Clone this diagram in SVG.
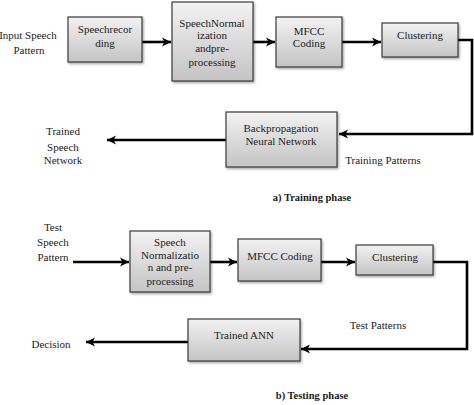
<svg xmlns="http://www.w3.org/2000/svg" width="474" height="405" viewBox="0 0 474 405">
<style>
text{font-family:"Liberation Serif","Times New Roman",serif;font-size:11px;fill:#222;text-anchor:middle}
.b{font-weight:bold;font-size:10.5px}
.box{fill:url(#g);stroke:#3a3a3a;stroke-width:1.2;filter:url(#sh)}
.con{fill:none;stroke:#000;stroke-width:2.6}
.arr{marker-end:url(#ah)}
</style>
<defs>
<linearGradient id="g" x1="0" y1="0" x2="0" y2="1">
<stop offset="0" stop-color="#f2f2f2"/>
<stop offset="1" stop-color="#c4c4c4"/>
</linearGradient>
<filter id="sh" x="-10%" y="-10%" width="125%" height="130%">
<feDropShadow dx="1.2" dy="1.5" stdDeviation="1" flood-color="#000" flood-opacity="0.35"/>
</filter>
<marker id="ah" markerWidth="10" markerHeight="10" viewBox="0 0 10 10" refX="9" refY="5" orient="auto" markerUnits="userSpaceOnUse">
<path d="M0,0.5 L9,5 L0,9.5 L2.5,5 Z" fill="#000"/>
</marker>
</defs>
<g id="connectors">
<line class="con arr" x1="142" y1="42" x2="171" y2="42"/>
<line class="con arr" x1="253" y1="42" x2="275" y2="42"/>
<line class="con arr" x1="342" y1="42" x2="381" y2="42"/>
<polyline class="con arr" points="458,40 472,40 472,134 339,134"/>
<line class="con arr" x1="226" y1="140" x2="107" y2="140"/>
<line class="con arr" x1="73" y1="262" x2="129" y2="262"/>
<line class="con arr" x1="210" y1="262" x2="237" y2="262"/>
<line class="con arr" x1="321" y1="262" x2="355" y2="262"/>
<polyline class="con arr" points="433,262 467,262 467,349 301,349"/>
<line class="con arr" x1="188" y1="342" x2="86" y2="342"/>
</g>
<g id="input-speech-pattern"><text x="28" y="39">Input Speech</text><text x="29" y="54">Pattern</text></g>
<g id="speech-recording"><rect class="box" x="68" y="17" width="74" height="45"/><text x="105" y="33">Speechrecor</text><text x="105" y="47">ding</text></g>
<g id="speech-normalization"><rect class="box" x="172" y="2" width="81" height="79"/><text x="212" y="27">SpeechNormal</text><text x="212" y="39">ization</text><text x="212" y="52">andpre-</text><text x="212" y="66">processing</text></g>
<g id="mfcc-coding"><rect class="box" x="276" y="17" width="66" height="50"/><text x="309" y="35">MFCC</text><text x="309" y="47">Coding</text></g>
<g id="clustering"><rect class="box" x="382" y="23" width="76" height="34"/><text x="420" y="39">Clustering</text></g>
<g id="backprop-nn"><rect class="box" x="226" y="112" width="111" height="55"/><text x="281" y="132">Backpropagation</text><text x="281" y="145">Neural Network</text></g>
<g id="trained-speech-network"><text x="63" y="135">Trained</text><text x="63" y="151">Speech</text><text x="63" y="164">Network</text></g>
<g id="training-patterns"><text x="383" y="164">Training Patterns</text></g>
<g id="caption-a"><text class="b" x="312" y="201">a) Training phase</text></g>
<g id="test-speech-pattern"><text x="53" y="231">Test</text><text x="53" y="246">Speech</text><text x="53" y="261">Pattern</text></g>
<g id="speech-normalization-2"><rect class="box" x="130" y="231" width="80" height="61"/><text x="170" y="246">Speech</text><text x="170" y="259">Normalizatio</text><text x="170" y="271">n and pre-</text><text x="170" y="285">processing</text></g>
<g id="mfcc-coding-2"><rect class="box" x="238" y="239" width="83" height="42"/><text x="280" y="260">MFCC Coding</text></g>
<g id="clustering-2"><rect class="box" x="356" y="245" width="77" height="30"/><text x="395" y="261">Clustering</text></g>
<g id="trained-ann"><rect class="box" x="188" y="319" width="112" height="42"/><text x="244" y="339">Trained ANN</text></g>
<g id="decision"><text x="51" y="348">Decision</text></g>
<g id="test-patterns"><text x="378" y="329">Test Patterns</text></g>
<g id="caption-b"><text class="b" x="312" y="399">b) Testing phase</text></g>
</svg>
